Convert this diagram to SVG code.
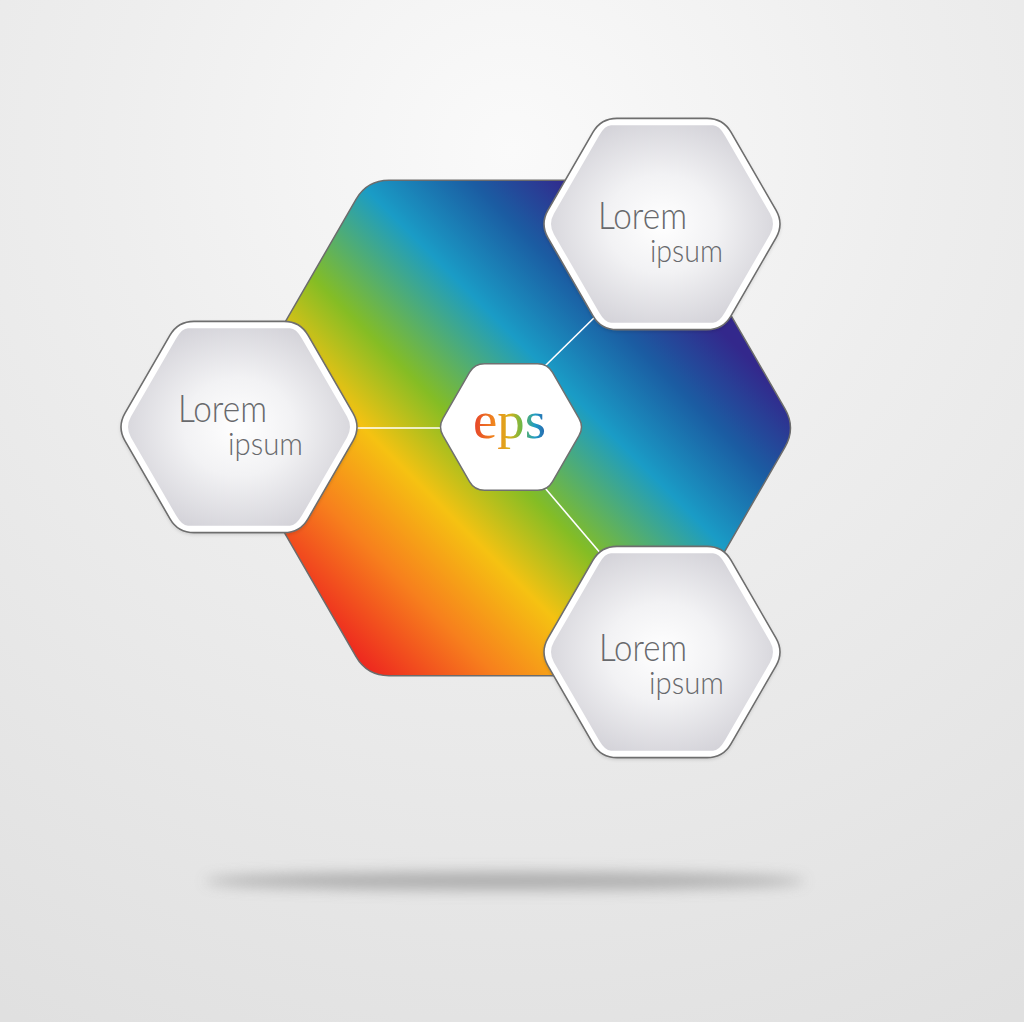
<svg xmlns="http://www.w3.org/2000/svg" xmlns:xlink="http://www.w3.org/1999/xlink" width="1024" height="1022" viewBox="0 0 1024 1022">
  <defs>
    <radialGradient id="bg" gradientUnits="userSpaceOnUse" cx="512" cy="150" r="1000">
      <stop offset="0" stop-color="#fafafa"/>
      <stop offset="0.4" stop-color="#eeeeee"/>
      <stop offset="1" stop-color="#e0e0e0"/>
    </radialGradient>
    <linearGradient id="rainbow" gradientUnits="userSpaceOnUse" x1="309" y1="629" x2="664" y2="274">
      <stop offset="0" stop-color="#ec1c1f"/>
      <stop offset="0.2" stop-color="#f7801d"/>
      <stop offset="0.36" stop-color="#f5c212"/>
      <stop offset="0.5" stop-color="#84bd25"/>
      <stop offset="0.7" stop-color="#1a9cc6"/>
      <stop offset="0.86" stop-color="#1b5ca2"/>
      <stop offset="1" stop-color="#33288c"/>
    </linearGradient>
    <radialGradient id="innerFill" cx="0.5" cy="0.5" r="0.55">
      <stop offset="0" stop-color="#ffffff"/>
      <stop offset="0.45" stop-color="#f2f2f4"/>
      <stop offset="1" stop-color="#d4d3d9"/>
    </radialGradient>
    <linearGradient id="epsGrad" gradientUnits="userSpaceOnUse" x1="473" y1="0" x2="546" y2="0">
      <stop offset="0" stop-color="#e6402b"/>
      <stop offset="0.3" stop-color="#f08a1e"/>
      <stop offset="0.5" stop-color="#d8b01b"/>
      <stop offset="0.66" stop-color="#72b843"/>
      <stop offset="0.85" stop-color="#1e9cc8"/>
      <stop offset="1" stop-color="#2a62aa"/>
    </linearGradient>
    <filter id="blur" x="-20%" y="-200%" width="140%" height="500%">
      <feGaussianBlur stdDeviation="7"/>
    </filter>
    <filter id="soft" x="-10%" y="-10%" width="120%" height="120%">
      <feDropShadow dx="0" dy="1.5" stdDeviation="1.5" flood-color="#000" flood-opacity="0.12"/>
    </filter>
    <path id="hexOuter" d="M -45,-105.66 L 45,-105.66 Q 61,-105.66 69,-91.8 L 114,-13.86 Q 122,0 114,13.86 L 69,91.8 Q 61,105.66 45,105.66 L -45,105.66 Q -61,105.66 -69,91.8 L -114,13.86 Q -122,0 -114,-13.86 L -69,-91.8 Q -61,-105.66 -45,-105.66 Z"/>
    <path id="hexInner" d="M -51,-98.73 L 51,-98.73 Q 57,-98.73 63,-88.34 L 108,-10.39 Q 114,0 108,10.39 L 63,88.34 Q 57,98.73 51,98.73 L -51,98.73 Q -57,98.73 -63,88.34 L -108,10.39 Q -114,0 -108,-10.39 L -63,-88.34 Q -57,-98.73 -51,-98.73 Z"/>
    <style>
      .outer { fill: #ffffff; stroke: #6e6e6e; stroke-width: 1.6; }
      .inner { fill: url(#innerFill); }
      .lorem { font-family: Lato, "Open Sans", "Liberation Sans", sans-serif; font-weight: 300; font-size: 37px; fill: #68696c; }
      .ipsum { font-family: Lato, "Open Sans", "Liberation Sans", sans-serif; font-weight: 300; font-size: 31px; fill: #68696c; }
      .conn { stroke: #ffffff; stroke-width: 1.6; fill: none; }
    </style>
  </defs>

  <rect x="0" y="0" width="1024" height="1022" fill="url(#bg)"/>
  <ellipse cx="505" cy="881" rx="300" ry="9" fill="#9a9a9a" opacity="0.75" filter="url(#blur)"/>

  <g id="main-hex">
    <path d="M 389,180.3 L 631,180.3 Q 653,180.3 664,199.35 L 785,408.95 Q 796,428 785,447.05 L 664,656.65 Q 653,675.7 631,675.7 L 389,675.7 Q 367,675.7 356,656.65 L 235,447.05 Q 224,428 235,408.95 L 356,199.35 Q 367,180.3 389,180.3 Z" fill="url(#rainbow)" stroke="#6c6c6c" stroke-width="1.5"/>
  </g>

  <g id="connectors">
    <line class="conn" x1="350" y1="428" x2="442" y2="428"/>
    <line class="conn" x1="545" y1="366" x2="602" y2="310"/>
    <line class="conn" x1="545" y1="488" x2="602" y2="555"/>
  </g>

  <g id="node-top-right" transform="translate(662,224)" filter="url(#soft)">
    <use xlink:href="#hexOuter" class="outer"/>
    <use xlink:href="#hexInner" class="inner"/>
  </g>
  <g id="node-top-right-text">
    <text class="lorem" x="598" y="229" textLength="89" lengthAdjust="spacingAndGlyphs">Lorem</text>
    <text class="ipsum" x="650" y="262" textLength="73" lengthAdjust="spacingAndGlyphs">ipsum</text>
  </g>

  <g id="node-left" transform="translate(239,427)" filter="url(#soft)">
    <use xlink:href="#hexOuter" class="outer"/>
    <use xlink:href="#hexInner" class="inner"/>
  </g>
  <g id="node-left-text">
    <text class="lorem" x="178" y="422" textLength="89" lengthAdjust="spacingAndGlyphs">Lorem</text>
    <text class="ipsum" x="228" y="455" textLength="75" lengthAdjust="spacingAndGlyphs">ipsum</text>
  </g>

  <g id="node-bottom-right" transform="translate(662,652)" filter="url(#soft)">
    <use xlink:href="#hexOuter" class="outer"/>
    <use xlink:href="#hexInner" class="inner"/>
  </g>
  <g id="node-bottom-right-text">
    <text class="lorem" x="599" y="661" textLength="88" lengthAdjust="spacingAndGlyphs">Lorem</text>
    <text class="ipsum" x="649" y="694" textLength="75" lengthAdjust="spacingAndGlyphs">ipsum</text>
  </g>

  <g id="node-center">
    <path transform="translate(511,427)" d="M -26.5,-63.22 L 26.5,-63.22 Q 36.5,-63.22 41.5,-54.56 L 68,-8.66 Q 73,0 68,8.66 L 41.5,54.56 Q 36.5,63.22 26.5,63.22 L -26.5,63.22 Q -36.5,63.22 -41.5,54.56 L -68,8.66 Q -73,0 -68,-8.66 L -41.5,-54.56 Q -36.5,-63.22 -26.5,-63.22 Z" fill="#ffffff" stroke="#707070" stroke-width="1.5"/>
    <text x="509.5" y="438" text-anchor="middle" font-family="Liberation Serif, serif" font-size="53" fill="url(#epsGrad)" textLength="73" lengthAdjust="spacingAndGlyphs">eps</text>
  </g>
</svg>
